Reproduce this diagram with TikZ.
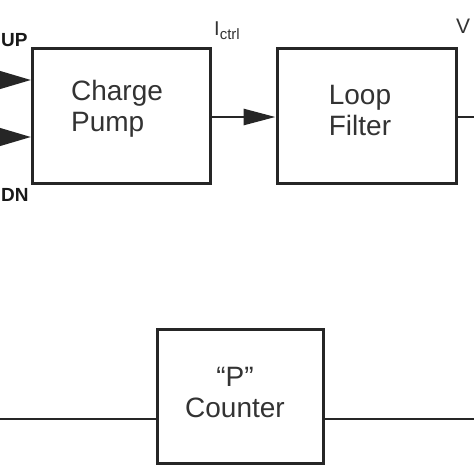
\documentclass[tikz,border=0pt]{standalone}
\usepackage{fontspec}
\setmainfont{Liberation Sans}
\usetikzlibrary{arrows.meta}
\begin{document}
\begin{tikzpicture}[x=1pt,y=-1pt,
  blk/.style={draw=black!85,line width=3pt,inner sep=0pt},
  wire/.style={draw=black!85,line width=2.8pt},
  bigtip/.style={-{Triangle[length=32pt,width=18pt]}},
  midtip/.style={-{Triangle[length=32pt,width=16pt]}},
  lbl/.style={text=black!80,font=\fontsize{28}{31}\selectfont,align=left,inner sep=0pt},
  pin/.style={text=black!90,font=\fontsize{19}{22}\selectfont\bfseries,inner sep=0pt}]
\useasboundingbox (0,0) rectangle (474,474);
\fill[white] (0,0) rectangle (474,474);
% boxes
\node[blk,minimum width=178pt,minimum height=135pt] (cp) at (121.5,115.5) {};
\node[blk,minimum width=179pt,minimum height=135pt] (lf) at (366.5,115.5) {};
\node[blk,minimum width=166pt,minimum height=134pt] (pc) at (240,396) {};
% box texts
\node[lbl] (cpt) at (117,109) {Charge\\Pump};
\node[lbl] (lft) at (360,111) {Loop\\Filter};
\node[lbl,align=center] (pct) at (235,392) {“P”\\Counter};
% inputs
\coordinate (upin) at (-30,80);
\coordinate (dnin) at (-30,137);
\draw[wire,bigtip] (upin) -- (cp.west |- upin);
\draw[wire,bigtip] (dnin) -- (cp.west |- dnin);
\node[pin,anchor=west] (up) at (1,40) {UP};
\node[pin,anchor=west] (dn) at (1,195) {DN};
% charge pump -> loop filter
\draw[wire,midtip] (cp.east |- 0,117) -- (lf.west |- 0,117);
\node[text=black!80,anchor=south west,inner sep=0pt,font=\fontsize{20}{22}\selectfont] (ictrl) at (214,40) {I\textsubscript{\fontsize{15}{16}\selectfont ctrl}};
% loop filter output
\coordinate (vout) at (490,117);
\draw[wire] (lf.east |- 0,117) -- (vout);
\node[text=black!80,anchor=south west,inner sep=0pt,font=\fontsize{21}{22}\selectfont] (vlbl) at (456,34) {V};
% P counter wires
\coordinate (pcl) at (-10,419);
\coordinate (pcr) at (490,419);
\draw[wire] (pcl) -- (pc.west |- pcl);
\draw[wire] (pc.east |- pcr) -- (pcr);
\end{tikzpicture}
\end{document}
